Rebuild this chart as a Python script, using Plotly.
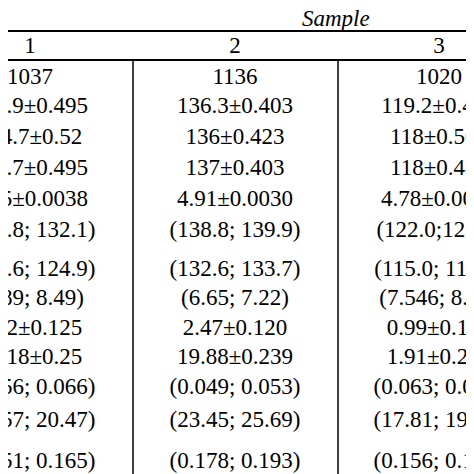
import plotly.graph_objects as go

headers = ["1", "2", "3"]
col1 = ["1037", "125.9±0.495", "124.7±0.52", "125.7±0.495", "4.85±0.0038", "(125.8; 132.1)",
        "(123.6; 124.9)", "(7.89; 8.49)", "1.22±0.125", "18.18±0.25", "(0.056; 0.066)",
        "(18.57; 20.47)", "(0.151; 0.165)"]
col2 = ["1136", "136.3±0.403", "136±0.423", "137±0.403", "4.91±0.0030", "(138.8; 139.9)",
        "(132.6; 133.7)", "(6.65; 7.22)", "2.47±0.120", "19.88±0.239", "(0.049; 0.053)",
        "(23.45; 25.69)", "(0.178; 0.193)"]
col3 = ["1020", "119.2±0.481", "118±0.505", "118±0.484", "4.78±0.0041", "(122.0;123.1)",
        "(115.0; 116.2)", "(7.546; 8.23)", "0.99±0.121", "1.91±0.251", "(0.063; 0.068)",
        "(17.81; 19.63)", "(0.156; 0.171)"]

row_y = [70, 99, 130, 161, 192, 223, 262, 291, 321, 350, 380, 413, 454]
col_x = [22, 227, 431]
FAM = "Liberation Serif, Times New Roman, DejaVu Serif, serif"
font = dict(family=FAM, size=23, color="black")

fig = go.Figure()
for cx, vals in zip(col_x, [col1, col2, col3]):
    fig.add_trace(go.Scatter(x=[cx]*len(vals), y=row_y, text=vals, mode="text",
                             textfont=font, cliponaxis=True, hoverinfo="skip"))
fig.add_trace(go.Scatter(x=col_x, y=[39]*3, text=headers, mode="text",
                         textfont=font, cliponaxis=True, hoverinfo="skip"))
fig.add_annotation(x=328, y=10, text="<i>Sample</i>", showarrow=False,
                   font=dict(family=FAM, size=23, color="black"))

lw = dict(color="black", width=2)
fig.add_shape(type="line", x0=0, x1=474, y0=23, y1=23, line=lw)
fig.add_shape(type="line", x0=0, x1=474, y0=52, y1=52, line=lw)
for vx in [125, 330]:
    fig.add_shape(type="line", x0=vx, x1=vx, y0=52, y1=474, line=dict(color="black", width=1.5))

fig.update_layout(width=474, height=474, margin=dict(l=0, r=0, t=0, b=0),
                  plot_bgcolor="white", paper_bgcolor="white", showlegend=False,
                  font=dict(family=FAM),
                  xaxis=dict(range=[0, 474], visible=False),
                  yaxis=dict(range=[474, 0], visible=False))
fig.write_html("out.html")
